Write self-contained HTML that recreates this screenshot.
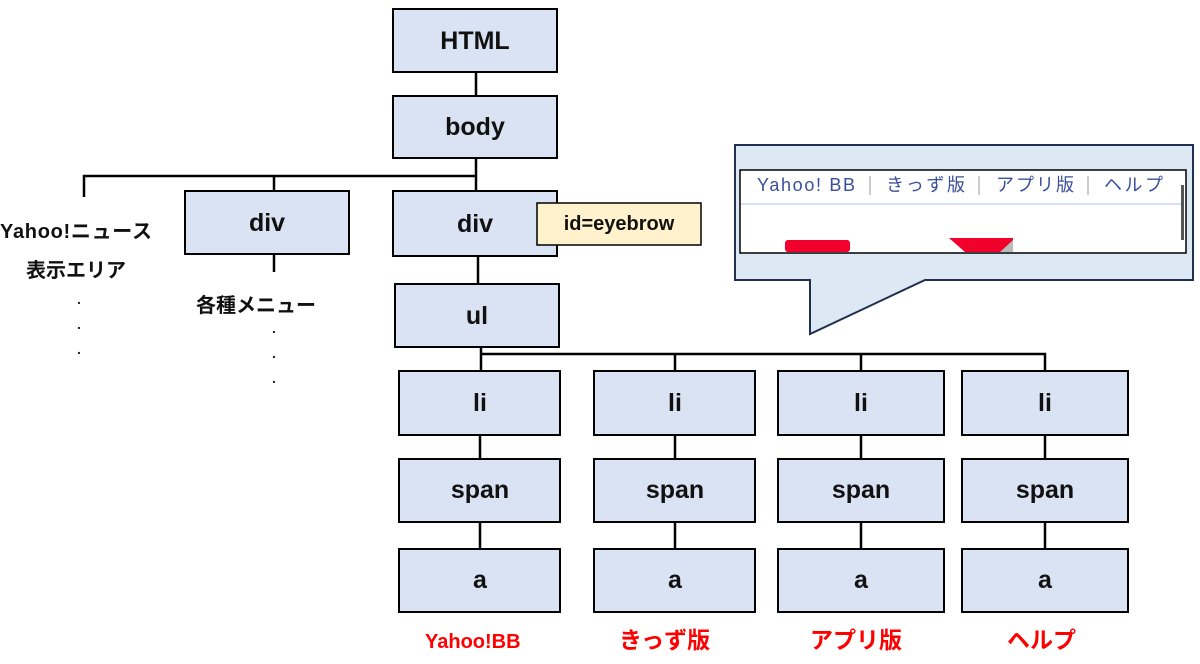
<!DOCTYPE html>
<html><head><meta charset="utf-8"><style>
html,body{margin:0;padding:0;background:#fff;width:1200px;height:664px;overflow:hidden}
svg text{font-family:"Liberation Sans","Noto Sans CJK JP",sans-serif;font-weight:bold}
</style></head><body>
<svg width="1200" height="664" viewBox="0 0 1200 664" xmlns="http://www.w3.org/2000/svg">
<g stroke="#000" stroke-width="2.5" fill="none">
<line x1="476" y1="72" x2="476" y2="96"/>
<line x1="476" y1="158" x2="476" y2="191"/>
<polyline points="84,197 84,176 476,176"/>
<line x1="274" y1="176" x2="274" y2="191"/>
<line x1="274" y1="254" x2="274" y2="272"/>
<line x1="478" y1="256" x2="478" y2="284"/>
<line x1="481" y1="347" x2="481" y2="371"/>
<polyline points="481,354 1045,354 1045,371"/>
<line x1="675" y1="354" x2="675" y2="371"/>
<line x1="861" y1="354" x2="861" y2="371"/>
<line x1="480" y1="435" x2="480" y2="459"/><line x1="480" y1="522" x2="480" y2="549"/>
<line x1="675" y1="435" x2="675" y2="459"/><line x1="675" y1="522" x2="675" y2="549"/>
<line x1="861" y1="435" x2="861" y2="459"/><line x1="861" y1="522" x2="861" y2="549"/>
<line x1="1045" y1="435" x2="1045" y2="459"/><line x1="1045" y1="522" x2="1045" y2="549"/>
</g>
<g fill="#dae3f3" stroke="#000" stroke-width="2">
<rect x="393" y="9" width="164" height="63"/>
<rect x="393" y="96" width="164" height="62"/>
<rect x="185" y="191" width="164" height="63"/>
<rect x="393" y="191" width="164" height="65"/>
<rect x="395" y="284" width="164" height="63"/>
<rect x="399" y="371" width="161" height="64"/><rect x="594" y="371" width="161" height="64"/><rect x="778" y="371" width="166" height="64"/><rect x="962" y="371" width="166" height="64"/>
<rect x="399" y="459" width="161" height="63"/><rect x="594" y="459" width="161" height="63"/><rect x="778" y="459" width="166" height="63"/><rect x="962" y="459" width="166" height="63"/>
<rect x="399" y="549" width="161" height="63"/><rect x="594" y="549" width="161" height="63"/><rect x="778" y="549" width="166" height="63"/><rect x="962" y="549" width="166" height="63"/>
</g>
<rect x="537" y="203" width="164" height="42" fill="#fff2cc" stroke="#000" stroke-width="1.5"/>
<g font-size="25" text-anchor="middle" fill="#111">
<text x="475" y="49">HTML</text>
<text x="475" y="135">body</text>
<text x="267" y="231">div</text>
<text x="475" y="232">div</text>
<text x="477" y="324">ul</text>
<text x="480" y="411">li</text><text x="675" y="411">li</text><text x="861" y="411">li</text><text x="1045" y="411">li</text>
<text x="480" y="498">span</text><text x="675" y="498">span</text><text x="861" y="498">span</text><text x="1045" y="498">span</text>
<text x="480" y="588">a</text><text x="675" y="588">a</text><text x="861" y="588">a</text><text x="1045" y="588">a</text>
</g>
<text x="619" y="230" font-size="20" text-anchor="middle" fill="#111">id=eyebrow</text>
<g font-size="20" fill="#111">
<text x="0" y="238" textLength="152">Yahoo!ニュース</text>
<text x="26" y="277">表示エリア</text>
<text x="196" y="312">各種メニュー</text>
</g>
<g fill="#222" font-size="14" text-anchor="middle">
<text x="79" y="304">.</text><text x="79" y="329">.</text><text x="79" y="354">.</text>
<text x="274" y="333">.</text><text x="274" y="358">.</text><text x="274" y="383">.</text>
</g>
<g fill="#ff0000">
<text x="425" y="648" font-size="20">Yahoo!BB</text>
<text x="619" y="648" font-size="23">きっず版</text>
<text x="810" y="648" font-size="23">アプリ版</text>
<text x="1007" y="648" font-size="23">ヘルプ</text>
</g>
<path d="M735,145 H1193 V280 H925 L810,334 V280 H735 Z" fill="#dde8f5" stroke="#1f3050" stroke-width="2"/>
<rect x="740" y="170" width="446" height="83" fill="#fff" stroke="#000" stroke-width="1.5"/>
<line x1="741" y1="204" x2="1181" y2="204" stroke="#c7d8f0" stroke-width="1.5"/>
<rect x="1181" y="185" width="3" height="55" fill="#555"/>
<rect x="785" y="240" width="65" height="12" rx="3" fill="#f0002a"/>
<path d="M949,238 H1013 V252 H965 Z" fill="#f0002a"/>
<path d="M1000,252 L1013,240 V252 Z" fill="#bbb"/>
<g font-size="18" fill="#3a4f9a">
<text x="757" y="191" style="font-weight:normal" textLength="98">Yahoo! BB</text>
<text x="886" y="191" style="font-weight:normal" textLength="79">きっず版</text>
<text x="996" y="191" style="font-weight:normal" textLength="78">アプリ版</text>
<text x="1104" y="191" style="font-weight:normal" textLength="59">ヘルプ</text>
</g>
<g stroke="#bbb" stroke-width="1.5">
<line x1="870" y1="176" x2="870" y2="195"/><line x1="979" y1="176" x2="979" y2="195"/><line x1="1088" y1="176" x2="1088" y2="195"/>
</g>
</svg>
</body></html>
